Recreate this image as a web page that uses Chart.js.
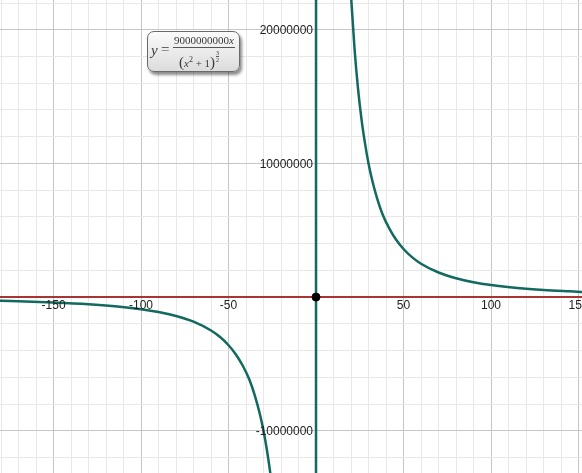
<!DOCTYPE html>
<html>
<head>
<meta charset="utf-8">
<script src="https://cdn.jsdelivr.net/npm/chart.js@4"></script>
<style>
html,body{margin:0;padding:0;background:#fff;overflow:hidden}
#wrap{position:relative;width:582px;height:473px}
#formula{position:absolute;left:147px;top:31px;width:93px;height:41px;box-sizing:border-box;
border:1px solid #6a6a6a;border-radius:7px;background:linear-gradient(#fbfbfb,#dcdcdc);
box-shadow:2px 3px 3px rgba(0,0,0,0.45);font-family:"Liberation Serif","DejaVu Serif",serif;color:#3a3a3a}
#formula .y{position:absolute;left:3px;top:10px;font-size:15px;font-style:italic}
#formula .eq{position:absolute;left:13px;top:9px;font-size:15px}
#formula .num{position:absolute;left:25px;top:2px;font-size:11px;border-bottom:1px solid #555;line-height:13px;padding:0 1px}
#formula .den{position:absolute;left:31px;top:18px;font-size:11px;line-height:20px;white-space:nowrap}
#formula .fr{display:inline-block;vertical-align:5px;font-size:6px;line-height:6px;text-align:center;margin-left:1px}
#formula .fr span{display:block}
#formula .fr span:first-child{border-bottom:1px solid #555}
</style>
</head>
<body>
<div id="wrap">
<canvas id="chart" width="582" height="473"></canvas>
<div id="formula">
<span class="y">y</span><span class="eq">=</span>
<span class="num">9000000000<i>x</i></span>
<span class="den"><span style="font-size:15px">(</span><i>x</i><sup style="font-size:8px">2</sup> + 1<span style="font-size:15px">)</span><span class="fr"><span>3</span><span>2</span></span></span>
</div>
</div>
<script>

// values
let rightX=[19.5,22,24,26,28,30,32,35,38,42,46,50,55,60,70,80,90,100,115,130,145,155]
let rightY=[23600000,18600000,15600000,13300000,11500000,10000000,8800000,7350000,6200000,5100000,4250000,3600000,2970000,2500000,1840000,1410000,1110000,900000,680000,530000,430000,370000]

let leftX=[-185,-170,-150,-130,-115,-100,-90,-80,-70,-60,-55,-50,-46,-42,-38,-35,-32,-30,-28,-26,-24]
let leftY=[-260000,-310000,-400000,-530000,-680000,-900000,-1110000,-1410000,-1840000,-2500000,-2970000,-3600000,-4250000,-5100000,-6200000,-7350000,-8800000,-10000000,-11500000,-13300000,-15600000]

// steep part next to x=0
let spikeX=[-0.7,0,0.7]
let spikeY=[-3460000000,0,3460000000]

let xTickLabels=[-150,-100,-50,50,100,150]
let yTickLabels=[20000000,10000000,-10000000]

// grid: major every 50 / 10000000, minor every 10 / 2000000
let xGrid=[], yGrid=[]
for(let v=-180;v<=150;v+=10) xGrid.push(v)
for(let v=-12000000;v<=22000000;v+=2000000) yGrid.push(v)

function pts(xs,ys){
  return xs.map((x,i)=>({x:x,y:ys[i]}))
}

const curveColor='#12695f'
const axisColor='#a83434'
const majorGrid='#c6c6c6'
const minorGrid='#e8e8e8'

const labelPlugin={
  id:'labels',
  afterDatasetsDraw(chart){
    const c=chart.ctx
    const xs=chart.scales.x, ys=chart.scales.y
    const x0=xs.getPixelForValue(0), y0=ys.getPixelForValue(0)
    c.save()
    c.font='12px "Liberation Sans", Arial, sans-serif'
    c.fillStyle='#222'
    c.textAlign='center'
    c.textBaseline='middle'
    xTickLabels.forEach(v=>{
      c.fillText(String(v),xs.getPixelForValue(v),y0+9)
    })
    c.textAlign='right'
    yTickLabels.forEach(v=>{
      c.fillText(String(v),x0-3,ys.getPixelForValue(v)+1)
    })
    c.restore()
  }
}

new Chart(document.getElementById('chart'),{
  type:'scatter',
  data:{
    datasets:[
      {data:pts(leftX,leftY),showLine:true,borderColor:curveColor,borderWidth:2.5,pointRadius:0,cubicInterpolationMode:'monotone',order:3},
      {data:pts(rightX,rightY),showLine:true,borderColor:curveColor,borderWidth:2.5,pointRadius:0,cubicInterpolationMode:'monotone',order:3},
      {data:pts(spikeX,spikeY),showLine:true,borderColor:curveColor,borderWidth:2.5,pointRadius:0,order:3},
      {data:[{x:-190,y:0},{x:160,y:0}],showLine:true,borderColor:axisColor,borderWidth:2,pointRadius:0,order:2},
      {data:[{x:0,y:0}],pointRadius:4,pointBackgroundColor:'#000',pointBorderColor:'#000',order:1}
    ]
  },
  options:{
    responsive:false,
    animation:false,
    events:[],
    layout:{padding:0,autoPadding:false},
    plugins:{legend:{display:false},tooltip:{enabled:false}},
    scales:{
      x:{
        type:'linear',min:-180.6,max:152,
        border:{display:false},
        ticks:{display:false},
        afterBuildTicks:s=>{s.ticks=xGrid.map(v=>({value:v}))},
        grid:{drawTicks:false,lineWidth:1,
          color:ctx=>ctx.tick.value%50===0?majorGrid:minorGrid}
      },
      y:{
        type:'linear',min:-13160000,max:22230000,
        border:{display:false},
        ticks:{display:false},
        afterBuildTicks:s=>{s.ticks=yGrid.map(v=>({value:v}))},
        grid:{drawTicks:false,lineWidth:1,
          color:ctx=>ctx.tick.value%10000000===0?majorGrid:minorGrid}
      }
    }
  },
  plugins:[labelPlugin]
})
</script>
</body>
</html>
